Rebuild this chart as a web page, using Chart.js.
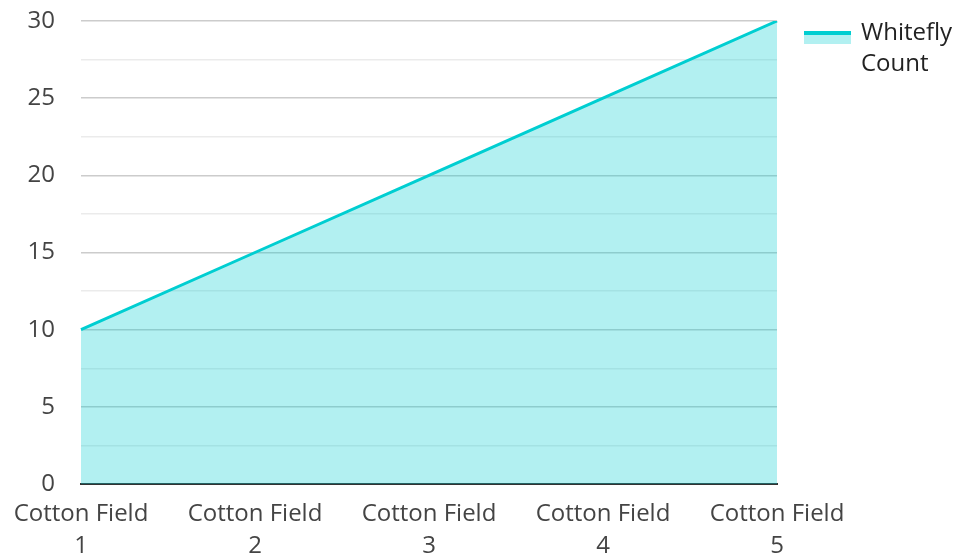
<!DOCTYPE html>
<html>
<head>
<meta charset="utf-8">
<script src="https://cdn.jsdelivr.net/npm/chart.js@4/dist/chart.umd.min.js"></script>
<style>
html,body{margin:0;padding:0;background:#fff;}
#wrap{width:960px;height:555px;position:relative;}
</style>
</head>
<body>
<div id="wrap"><canvas id="c" width="960" height="555"></canvas></div>
<script>
const categories = [["Cotton Field","1"],["Cotton Field","2"],["Cotton Field","3"],["Cotton Field","4"],["Cotton Field","5"]];
const whiteflyCount = [10, 15, 20, 25, 30];
const seriesName = ["Whitefly", "Count"];
const yTickLabels = [0, 5, 10, 15, 20, 25, 30];

const lineColor = 'rgb(0,206,209)';
const fillColor = 'rgba(0,206,209,0.3)';
const textColor = '#444';
const FONT = '"Open Sans", sans-serif';

const legendPlugin = {
  id: 'customLegend',
  afterDraw(chart) {
    const ctx = chart.ctx;
    ctx.save();
    ctx.fillStyle = fillColor;
    ctx.fillRect(804, 33, 47, 11);
    ctx.strokeStyle = lineColor;
    ctx.lineWidth = 4;
    ctx.beginPath();
    ctx.moveTo(804, 33);
    ctx.lineTo(851, 33);
    ctx.stroke();
    ctx.fillStyle = '#222';
    ctx.font = '24px ' + FONT;
    ctx.textBaseline = 'middle';
    ctx.textAlign = 'left';
    seriesName.forEach((t, i) => ctx.fillText(t, 861, 33 + i * 31));
    ctx.restore();
  }
};

new Chart(document.getElementById('c'), {
  type: 'line',
  data: {
    labels: categories,
    datasets: [{
      label: seriesName.join(' '),
      data: whiteflyCount,
      borderColor: lineColor,
      backgroundColor: fillColor,
      borderWidth: 3,
      fill: 'origin',
      pointRadius: 0,
      tension: 0
    }]
  },
  options: {
    responsive: false,
    animation: false,
    layout: { padding: { top: 21, right: 183, left: 0, bottom: 0 } },
    plugins: { legend: { display: false }, tooltip: { enabled: false } },
    scales: {
      x: {
        offset: false,
        grid: { display: false, drawTicks: false },
        border: { display: true, color: '#333', width: 2 },
        ticks: { color: textColor, font: { family: FONT, size: 24, lineHeight: 1.33 }, padding: 14, maxRotation: 0, autoSkip: false },
        afterFit(s) { s.height = 71; s.paddingLeft = 0; s.paddingRight = 0; }
      },
      y: {
        min: 0, max: 30,
        grid: {
          drawTicks: false,
          color: (c) => (c.tick && c.tick.value % 5 === 0) ? '#cccccc' : '#ebebeb',
          lineWidth: 1.5
        },
        border: { display: false },
        ticks: {
          stepSize: 2.5,
          color: textColor,
          padding: 26,
          font: { family: FONT, size: 24 },
          callback: (v) => yTickLabels.includes(v) ? String(v) : ''
        },
        afterFit(s) { s.width = 81; s.paddingTop = 0; s.paddingBottom = 0; }
      }
    }
  },
  plugins: [legendPlugin]
});
</script>
</body>
</html>
